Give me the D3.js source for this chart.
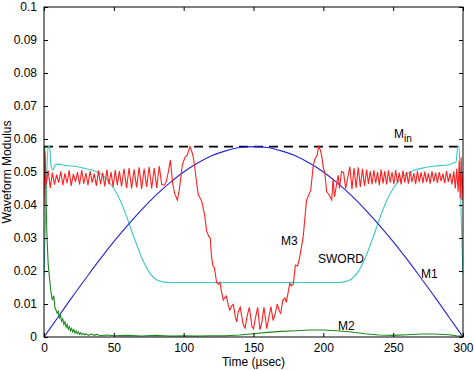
<!DOCTYPE html>
<html>
<head>
<meta charset="utf-8">
<script src="https://cdn.jsdelivr.net/npm/d3@7"></script>
<style>
  html, body { margin: 0; padding: 0; background: #fff; }
  svg { display: block; }
  text { font-family: "Liberation Sans", Arial, Helvetica, sans-serif; }
</style>
</head>
<body>
<svg id="chart" width="474" height="370"></svg>
<script>
// ---------- data ----------
const xTicks = [0, 50, 100, 150, 200, 250, 300];
const yTicks = [0, 0.01, 0.02, 0.03, 0.04, 0.05, 0.06, 0.07, 0.08, 0.09, 0.1];
const yTickLabels = ["0", "0.01", "0.02", "0.03", "0.04", "0.05", "0.06", "0.07", "0.08", "0.09", "0.1"];

const mIn = 0.0577; // dashed reference level

// M1 (blue)
const m1Time  = [0, 10, 20, 30, 40, 50, 60, 70, 80, 90, 100, 110, 120, 130, 140, 150,
                 160, 170, 180, 190, 200, 210, 220, 230, 240, 250, 260, 270, 280, 290, 300];
const m1Value = [0, 0.0060, 0.0120, 0.0178, 0.0235, 0.0289, 0.0339, 0.0386, 0.0429, 0.0467, 0.0500,
                 0.0527, 0.0549, 0.0564, 0.0574, 0.0577, 0.0574, 0.0564, 0.0549, 0.0527, 0.0500,
                 0.0467, 0.0429, 0.0386, 0.0339, 0.0289, 0.0235, 0.0178, 0.0120, 0.0060, 0];

// SWORD (cyan)
const swordTime  = [0, 1, 2, 3, 4, 5, 6.5, 8, 10, 15, 20, 25, 30, 35, 40, 45, 50, 55, 60, 65, 70, 75,
                    80, 85, 90, 150, 210, 215, 220, 225, 230, 235, 240, 245, 250, 255, 260, 265,
                    270, 275, 280, 285, 290, 293, 295, 296.3, 297.2, 298, 299, 300];
const swordValue = [0.018, 0.035, 0.050, 0.0577, 0.0577, 0.0520, 0.0506, 0.0522, 0.0524, 0.0520,
                    0.0518, 0.0515, 0.0510, 0.0505, 0.0496, 0.0478, 0.0450, 0.0410, 0.0355, 0.0295,
                    0.0240, 0.0198, 0.0175, 0.0167, 0.0165, 0.0165, 0.0165, 0.0167, 0.0175, 0.0198,
                    0.0240, 0.0295, 0.0355, 0.0410, 0.0450, 0.0478, 0.0495, 0.0505, 0.0511, 0.0515,
                    0.0518, 0.0520, 0.0522, 0.0527, 0.0530, 0.0577, 0.0577, 0.0480, 0.0320, 0.0190];

// M3 (red)
const m3Time = [0, 0.7, 1.5, 3, 4.5, 6, 7.5, 9, 10.5, 12, 13.5, 15, 16.5, 18, 19.5, 21, 22.5, 24, 25.5,
  27, 28.5, 30, 31.5, 33, 34.5, 36, 37.5, 39, 40.5, 42, 43.5, 45, 46.5, 48, 49.5, 51, 52.5, 54, 55.5,
  57.3, 59.1, 60.9, 62.7, 64.5, 66.3, 68.1, 69.9, 71.7, 73.5, 75.3, 77.1, 78.9, 80.7, 82.5, 84.3,
  86, 87.5, 89, 90.5, 92, 93.5, 95.5, 97, 99, 101, 102.5, 104.5, 106, 107, 108, 109.5, 110.5, 112,
  113, 114, 115, 116.5, 118, 119, 120, 121, 122, 123.6, 125, 126, 127, 128.4, 129.5, 130.6, 132, 133,
  134.5, 135.6, 137, 138, 139, 140.5, 142.5, 144, 145.5, 147, 149, 150, 151.5, 153, 154.6, 156,
  157.5, 159.5, 161, 162.5, 164, 165.5, 167, 168.5, 169.5, 171, 172.5, 173.5, 175, 176, 177, 178.5,
  180, 181.5, 183, 185.6, 187, 188, 189.5, 191, 192.8, 194, 195.5, 196.5, 198, 199, 200, 201, 202.4,
  204, 206, 207, 208, 210.6, 211.6, 213, 214.5, 216, 219, 220.5, 222, 223.5, 225, 226.5, 228, 229.5,
  231, 232.3, 233.6, 234.9, 236.2, 237.5, 238.8, 240.1, 241.4, 242.7, 244, 245.3, 246.6, 247.9,
  249.2, 250.5, 251.8, 253.1, 254.4, 255.7, 257, 258.3, 259.6, 260.9, 262.2, 263.5, 264.8, 266.1,
  267.4, 268.7, 270, 271.3, 272.6, 273.9, 275.2, 276.5, 277.8, 279.1, 280.4, 281.7, 283, 284.3,
  285.6, 286.9, 288.2, 289.5, 290.8, 292.1, 293.4, 294.5, 295.5, 296.5, 297.3, 298, 298.7, 299.3, 300];
const m3Value = [0.040, 0.056, 0.046, 0.0505, 0.0452, 0.0498, 0.0462, 0.0492, 0.0468, 0.0502, 0.0460,
  0.0496, 0.0466, 0.0505, 0.0458, 0.0494, 0.0470, 0.0500, 0.0462, 0.0506, 0.0465, 0.0497, 0.0460,
  0.0503, 0.0468, 0.0495, 0.0458, 0.0504, 0.0463, 0.0498, 0.0456, 0.0507, 0.0462, 0.0500, 0.0455,
  0.0506, 0.0460, 0.0503, 0.0456,
  0.0510, 0.0452, 0.0512, 0.0450, 0.0508, 0.0453, 0.0514, 0.0449, 0.0510, 0.0455, 0.0516, 0.0450,
  0.0512, 0.0452, 0.0518, 0.0462,
  0.0460, 0.0470, 0.0500, 0.0536, 0.0470, 0.0435, 0.0415, 0.0450, 0.0520, 0.0545, 0.0550, 0.0577,
  0.0560, 0.0542, 0.0512, 0.0460, 0.0430, 0.0420, 0.0410, 0.0390, 0.0370, 0.0320, 0.0305, 0.0300,
  0.0240, 0.0216, 0.0210, 0.0165, 0.0160, 0.0165, 0.0140, 0.0112, 0.0120, 0.0124, 0.0095, 0.0082,
  0.0095, 0.0099, 0.0060, 0.0046, 0.0075, 0.0090, 0.0040, 0.0027, 0.0065, 0.0090, 0.0030, 0.0025,
  0.0060, 0.0090, 0.0022, 0.0045, 0.0090, 0.0025, 0.0060, 0.0092, 0.0050, 0.0070, 0.0100, 0.0078,
  0.0072, 0.0112, 0.0118, 0.0105, 0.0140, 0.0163, 0.0155, 0.0160, 0.0218, 0.0215, 0.0240, 0.0304,
  0.0370, 0.0415, 0.0430, 0.0445, 0.0520, 0.0540, 0.0550, 0.0577, 0.0565, 0.0545, 0.0512, 0.0500,
  0.0440, 0.0432, 0.0415, 0.0480, 0.0425, 0.0490, 0.0450, 0.0502, 0.0498, 0.0450, 0.0516, 0.0448,
  0.0512, 0.0452, 0.0514, 0.0455, 0.0510, 0.0458,
  0.0507, 0.0464, 0.0502, 0.0462, 0.0506, 0.0466, 0.0500, 0.0460, 0.0508, 0.0465, 0.0503, 0.0462,
  0.0505, 0.0468, 0.0500, 0.0463, 0.0506, 0.0466, 0.0498, 0.0462, 0.0504, 0.0468, 0.0500, 0.0465,
  0.0502, 0.0470, 0.0497, 0.0463, 0.0503, 0.0469, 0.0499, 0.0466, 0.0501, 0.0470, 0.0496, 0.0465,
  0.0502, 0.0471, 0.0498, 0.0467, 0.0500, 0.0472, 0.0495, 0.0466, 0.0503, 0.0470, 0.0496, 0.0462,
  0.0502, 0.0450, 0.0510, 0.0440, 0.0535, 0.0420, 0.0545, 0.0415, 0.0500];

// M2 (green)
const m2Time  = [0, 0.5, 1, 2, 3, 4, 5, 6, 7, 7.8, 8.6, 9.4, 10.2, 11, 11.8, 12.6, 13.4, 14.2, 15, 15.8,
                 16.6, 17.4, 18.2, 19, 19.8, 20.6, 21.4, 22.2, 23, 23.8, 24.6, 25.4, 26.2, 27, 28, 29,
                 30, 32, 34, 36, 38, 40, 45, 50, 60, 70, 80, 90, 100, 110, 120, 130, 140, 150, 160,
                 170, 180, 190, 200, 210, 220, 230, 240, 250, 260, 270, 280, 290, 295, 300];
const m2Value = [0.0577, 0.0570, 0.0500, 0.0320, 0.0220, 0.0175, 0.0135, 0.0112, 0.0125, 0.0090,
                 0.0082, 0.0072, 0.0078, 0.0058, 0.0066, 0.0048, 0.0055, 0.0038, 0.0046, 0.0030,
                 0.0038, 0.0024, 0.0031, 0.0019, 0.0026, 0.0015, 0.0022, 0.0012, 0.0018, 0.0010,
                 0.0015, 0.0008, 0.0013, 0.0007, 0.0011, 0.0006, 0.0010, 0.0005, 0.0009, 0.0005,
                 0.0008, 0.0004, 0.0006, 0.0004, 0.0005, 0.0003, 0.0005, 0.0003, 0.0004, 0.0003,
                 0.0004, 0.0004, 0.0006, 0.0010, 0.0014, 0.0017, 0.0019, 0.0021, 0.0021, 0.0019,
                 0.0015, 0.0010, 0.0006, 0.0005, 0.0007, 0.0009, 0.0009, 0.0007, 0.0004, 0.0002];

// ---------- layout ----------
const margin = { left: 44, top: 7, right: 11, bottom: 33 };
const W = 474, H = 370;
const iw = W - margin.left - margin.right;
const ih = H - margin.top - margin.bottom;

const svg = d3.select("#chart");
const g = svg.append("g").attr("transform", `translate(${margin.left},${margin.top})`);

const x = d3.scaleLinear().domain([0, 300]).range([0, iw]);
const y = d3.scaleLinear().domain([0, 0.1]).range([ih, 0]);

const clip = svg.append("defs").append("clipPath").attr("id", "clip")
  .append("rect").attr("x", 0).attr("y", -1).attr("width", iw).attr("height", ih + 1);

const plot = g.append("g").attr("clip-path", "url(#clip)");

const zip = (ts, vs) => ts.map((t, i) => [t, vs[i]]);
const lineLin = d3.line().x(d => x(d[0])).y(d => y(d[1]));
const lineSmooth = d3.line().x(d => x(d[0])).y(d => y(d[1])).curve(d3.curveMonotoneX);

// dashed M_in
plot.append("path")
  .datum([[0, mIn], [300, mIn]])
  .attr("d", lineLin)
  .attr("fill", "none").attr("stroke", "#000").attr("stroke-width", 1.6)
  .attr("stroke-dasharray", "9,6");

plot.append("path").datum(zip(swordTime, swordValue)).attr("d", lineSmooth)
  .attr("fill", "none").attr("stroke", "#3cc8c4").attr("stroke-width", 1.1);

plot.append("path").datum(zip(m1Time, m1Value)).attr("d", lineSmooth)
  .attr("fill", "none").attr("stroke", "#2222dd").attr("stroke-width", 1.1);

plot.append("path").datum(zip(m2Time, m2Value)).attr("d", lineLin)
  .attr("fill", "none").attr("stroke", "#1a8a1a").attr("stroke-width", 1.1);

plot.append("path").datum(zip(m3Time, m3Value)).attr("d", lineLin)
  .attr("fill", "none").attr("stroke", "#ff2020").attr("stroke-width", 1.1);

// ---------- axes ----------
const fontSize = 12;
const ax = (sel) => sel.call(s => s.select(".domain").remove())
  .call(s => s.selectAll("text").attr("font-size", fontSize).attr("fill", "#000")
    .attr("font-family", '"Liberation Sans", Arial, Helvetica, sans-serif'))
  .call(s => s.selectAll("line").attr("stroke", "#000"));

g.append("g").attr("transform", `translate(0,${ih})`)
  .call(d3.axisBottom(x).tickValues(xTicks).tickFormat(d3.format("d"))
    .tickSizeInner(-4).tickSizeOuter(0).tickPadding(6)).call(ax);
g.append("g")
  .call(d3.axisTop(x).tickValues(xTicks).tickFormat("")
    .tickSizeInner(-4).tickSizeOuter(0)).call(ax);
g.append("g")
  .call(d3.axisLeft(y).tickValues(yTicks).tickFormat((d, i) => yTickLabels[i])
    .tickSizeInner(-4).tickSizeOuter(0).tickPadding(7)).call(ax);
g.append("g").attr("transform", `translate(${iw},0)`)
  .call(d3.axisRight(y).tickValues(yTicks).tickFormat("")
    .tickSizeInner(-4).tickSizeOuter(0)).call(ax);

// box
g.append("rect").attr("x", 0).attr("y", 0).attr("width", iw).attr("height", ih)
  .attr("fill", "none").attr("stroke", "#000").attr("stroke-width", 1);

// axis titles
svg.append("text").attr("x", margin.left + iw / 2).attr("y", 366)
  .attr("text-anchor", "middle").attr("font-size", fontSize).text("Time (µsec)");
svg.append("text").attr("transform", `translate(11,${margin.top + ih / 2}) rotate(-90)`)
  .attr("text-anchor", "middle").attr("font-size", fontSize).text("Waveform Modulus");

// in-plot labels
const lab = (tx, ty, s) => svg.append("text").attr("x", tx).attr("y", ty)
  .attr("font-size", fontSize).attr("fill", "#000").text(s);
lab(281, 245, "M3");
lab(318, 263, "SWORD");
lab(421, 278, "M1");
lab(338, 330, "M2");
const tin = lab(394, 138, "M");
tin.append("tspan").attr("font-size", 10).attr("dy", 4).text("in");
</script>
</body>
</html>
